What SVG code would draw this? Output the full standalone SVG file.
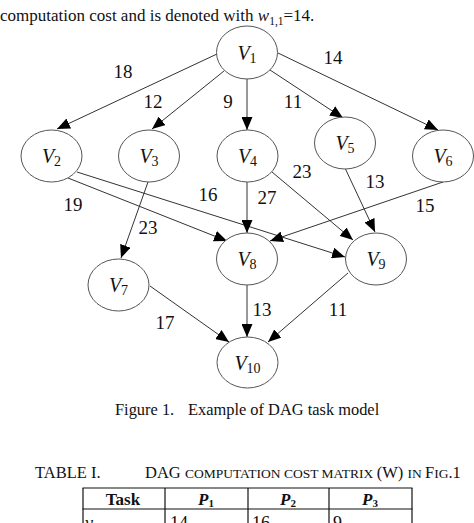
<svg xmlns="http://www.w3.org/2000/svg" width="474" height="523" viewBox="0 0 474 523">
<style>
.node ellipse{fill:#fff;stroke:#555;stroke-width:1}
.edges line{stroke:#333;stroke-width:1;marker-end:url(#ah)}
.tb line{stroke:#111;stroke-width:1.2}
</style>
<defs>
<marker id="ah" markerUnits="userSpaceOnUse" markerWidth="13" markerHeight="11" refX="13" refY="5.5" orient="auto">
<path d="M0,0 L13,5.5 L0,11 z" fill="#000"/>
</marker>
</defs>
<rect width="474" height="523" fill="#fff"/>
<text font-family="'Liberation Serif', serif" fill="#111" x="0" y="21" font-size="17">computation cost and is denoted with <tspan font-style="italic">w</tspan><tspan font-size="11.5" dy="4">1,1</tspan><tspan dy="-4">=14.</tspan></text>
<g class="edges">
<line x1="217" y1="54" x2="57" y2="129"/>
<line x1="224" y1="71" x2="152" y2="129"/>
<line x1="247" y1="78" x2="247" y2="130"/>
<line x1="270" y1="70" x2="343" y2="118"/>
<line x1="278" y1="53" x2="438" y2="130"/>
<line x1="68" y1="178" x2="227" y2="241"/>
<line x1="77" y1="172" x2="345" y2="257"/>
<line x1="148" y1="182" x2="121" y2="258"/>
<line x1="247" y1="182" x2="247" y2="233"/>
<line x1="272" y1="172" x2="353" y2="240"/>
<line x1="345" y1="168" x2="375" y2="232"/>
<line x1="443" y1="182" x2="270" y2="241"/>
<line x1="150" y1="286" x2="229" y2="342"/>
<line x1="247" y1="285" x2="247" y2="337"/>
<line x1="348" y1="273" x2="268" y2="342"/>
</g>
<g class="labels" font-family="'Liberation Serif', serif" font-size="19" fill="#111" text-anchor="middle">
<text x="123" y="78">18</text>
<text x="153" y="108">12</text>
<text x="228" y="108">9</text>
<text x="293" y="108">11</text>
<text x="333" y="64">14</text>
<text x="73" y="211">19</text>
<text x="208" y="201">16</text>
<text x="148" y="234">23</text>
<text x="267" y="204">27</text>
<text x="302" y="178">23</text>
<text x="375" y="188">13</text>
<text x="425" y="212">15</text>
<text x="165" y="329">17</text>
<text x="262" y="316">13</text>
<text x="338" y="316">11</text>
</g>
<g font-family="'Liberation Serif', serif" font-size="20" font-style="italic" fill="#111" text-anchor="middle">
<g id="v1" class="node"><ellipse cx="247" cy="52.5" rx="30.5" ry="26.5"/><text x="247" y="60">V<tspan font-size="14" font-style="normal" dy="3">1</tspan></text></g>
<g id="v2" class="node"><ellipse cx="51.5" cy="156" rx="30.5" ry="26"/><text x="51.5" y="163">V<tspan font-size="14" font-style="normal" dy="3">2</tspan></text></g>
<g id="v3" class="node"><ellipse cx="149" cy="156" rx="30.5" ry="26"/><text x="149" y="163">V<tspan font-size="14" font-style="normal" dy="3">3</tspan></text></g>
<g id="v4" class="node"><ellipse cx="247.5" cy="156" rx="30.5" ry="26"/><text x="247.5" y="163">V<tspan font-size="14" font-style="normal" dy="3">4</tspan></text></g>
<g id="v5" class="node"><ellipse cx="345" cy="143" rx="30.5" ry="26"/><text x="345" y="150">V<tspan font-size="14" font-style="normal" dy="3">5</tspan></text></g>
<g id="v6" class="node"><ellipse cx="443" cy="156" rx="30.5" ry="26"/><text x="443" y="163">V<tspan font-size="14" font-style="normal" dy="3">6</tspan></text></g>
<g id="v7" class="node"><ellipse cx="118.5" cy="285" rx="30.5" ry="26"/><text x="118.5" y="292">V<tspan font-size="14" font-style="normal" dy="3">7</tspan></text></g>
<g id="v8" class="node"><ellipse cx="247" cy="259" rx="30.5" ry="26"/><text x="247" y="266">V<tspan font-size="14" font-style="normal" dy="3">8</tspan></text></g>
<g id="v9" class="node"><ellipse cx="376" cy="259" rx="30.5" ry="26"/><text x="376" y="266">V<tspan font-size="14" font-style="normal" dy="3">9</tspan></text></g>
<g id="v10" class="node"><ellipse cx="247.5" cy="362.5" rx="30.5" ry="25.5"/><text x="247.5" y="370">V<tspan font-size="14" font-style="normal" dy="3">10</tspan></text></g>
</g>
<g font-family="'Liberation Serif', serif" fill="#111">
<text x="115" y="415" font-size="16.4">Figure 1.</text>
<text x="188" y="415" font-size="16.4">Example of DAG task model</text>
<text x="35" y="478" font-size="16.5">TABLE I.</text>
<text x="145" y="478" font-size="16.5">DAG <tspan font-size="13.5">COMPUTATION COST MATRIX </tspan>(W) <tspan font-size="13.5">IN </tspan>F<tspan font-size="13.5">IG</tspan>.1</text>
</g>
<g class="tb">
<line x1="82.5" y1="488" x2="412.5" y2="488"/>
<line x1="82.5" y1="509" x2="412.5" y2="509"/>
<line x1="83" y1="488" x2="83" y2="523"/>
<line x1="165" y1="488" x2="165" y2="523"/>
<line x1="248" y1="488" x2="248" y2="523"/>
<line x1="329" y1="488" x2="329" y2="523"/>
<line x1="412" y1="488" x2="412" y2="523"/>
</g>
<g font-family="'Liberation Serif', serif" font-size="17" font-weight="bold" text-anchor="middle" fill="#111">
<text x="123" y="505">Task</text>
<text x="206" y="505" font-style="italic">P<tspan font-size="11" dy="2" font-style="normal">1</tspan></text>
<text x="288" y="505" font-style="italic">P<tspan font-size="11" dy="2" font-style="normal">2</tspan></text>
<text x="370" y="505" font-style="italic">P<tspan font-size="11" dy="2" font-style="normal">3</tspan></text>
</g>
<g font-family="'Liberation Serif', serif" font-size="18" fill="#111">
<text x="85" y="529" font-style="italic">v<tspan font-size="12" dy="2" font-style="normal">1</tspan></text>
<text x="170" y="529">14</text>
<text x="252" y="529">16</text>
<text x="333" y="529">9</text>
</g>
</svg>
